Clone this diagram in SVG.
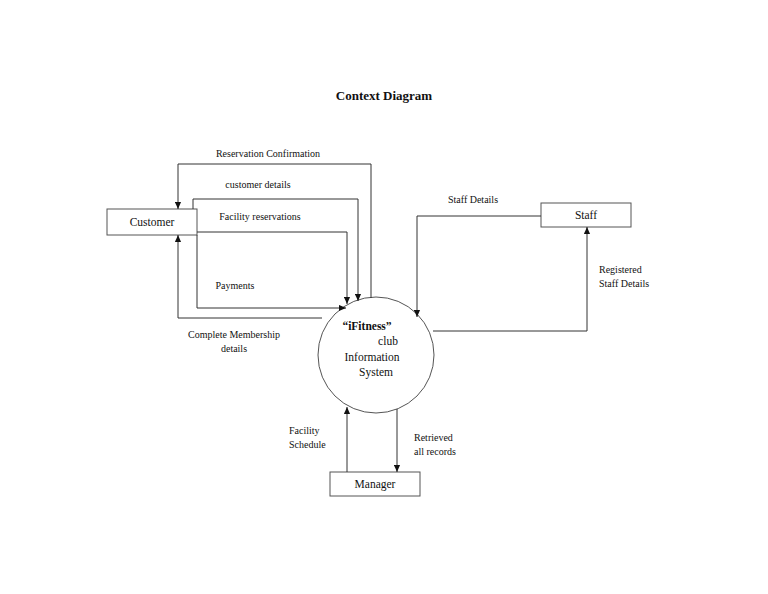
<svg xmlns="http://www.w3.org/2000/svg" width="768" height="594" viewBox="0 0 768 594">
<style>
text{font-family:"Liberation Serif",serif;font-size:10px;fill:#111}
.n{fill:#fff;stroke:#555;stroke-width:1}
.c{fill:none;stroke:#333;stroke-width:1}
.lbl{font-size:11.5px}
</style>
<defs><marker id="a" viewBox="0 0 8 8" refX="8" refY="4" markerWidth="7" markerHeight="7" orient="auto"><path d="M0,0.5 L8,4 L0,7.5 z" fill="#111"/></marker></defs>
<rect width="768" height="594" fill="#fff"/>
<text x="384" y="100" text-anchor="middle" style="font-size:13px;font-weight:bold">Context Diagram</text>
<g id="customer"><rect class="n" x="107" y="209" width="90" height="26"/><text class="lbl" x="152" y="226" text-anchor="middle">Customer</text></g>
<g id="staff"><rect class="n" x="541" y="203" width="90" height="24"/><text class="lbl" x="586" y="219" text-anchor="middle">Staff</text></g>
<g id="manager"><rect class="n" x="330" y="472" width="90" height="24"/><text class="lbl" x="375" y="488" text-anchor="middle">Manager</text></g>
<g id="system"><circle class="n" cx="376" cy="355" r="58"/>
<text x="367" y="330" text-anchor="middle" style="font-size:11.5px;font-weight:bold">“iFitness”</text>
<text class="lbl" x="388" y="345" text-anchor="middle">club</text>
<text class="lbl" x="372" y="361" text-anchor="middle">Information</text>
<text class="lbl" x="376" y="376" text-anchor="middle">System</text></g>
<g id="connectors">
<path class="c" d="M371,298 V164 H178 V209" marker-end="url(#a)"/>
<path class="c" d="M193,209 V199 H358 V301" marker-end="url(#a)"/>
<path class="c" d="M197,232 H347 V304" marker-end="url(#a)"/>
<path class="c" d="M197,235 V308 H346" marker-end="url(#a)"/>
<path class="c" d="M322,318 H178 V235" marker-end="url(#a)"/>
<path class="c" d="M541,216 H417 V317" marker-end="url(#a)"/>
<path class="c" d="M433,331 H587 V227" marker-end="url(#a)"/>
<path class="c" d="M347,472 V407" marker-end="url(#a)"/>
<path class="c" d="M397,409 V472" marker-end="url(#a)"/>
</g>
<text x="268" y="157" text-anchor="middle">Reservation Confirmation</text>
<text x="258" y="188" text-anchor="middle">customer details</text>
<text x="260" y="220" text-anchor="middle">Facility reservations</text>
<text x="235" y="289" text-anchor="middle">Payments</text>
<text x="234" y="338" text-anchor="middle">Complete Membership</text>
<text x="234" y="352" text-anchor="middle">details</text>
<text x="473" y="203" text-anchor="middle">Staff Details</text>
<text x="599" y="273">Registered</text>
<text x="599" y="287">Staff Details</text>
<text x="289" y="434">Facility</text>
<text x="289" y="448">Schedule</text>
<text x="414" y="441">Retrieved</text>
<text x="414" y="455">all records</text>
</svg>
